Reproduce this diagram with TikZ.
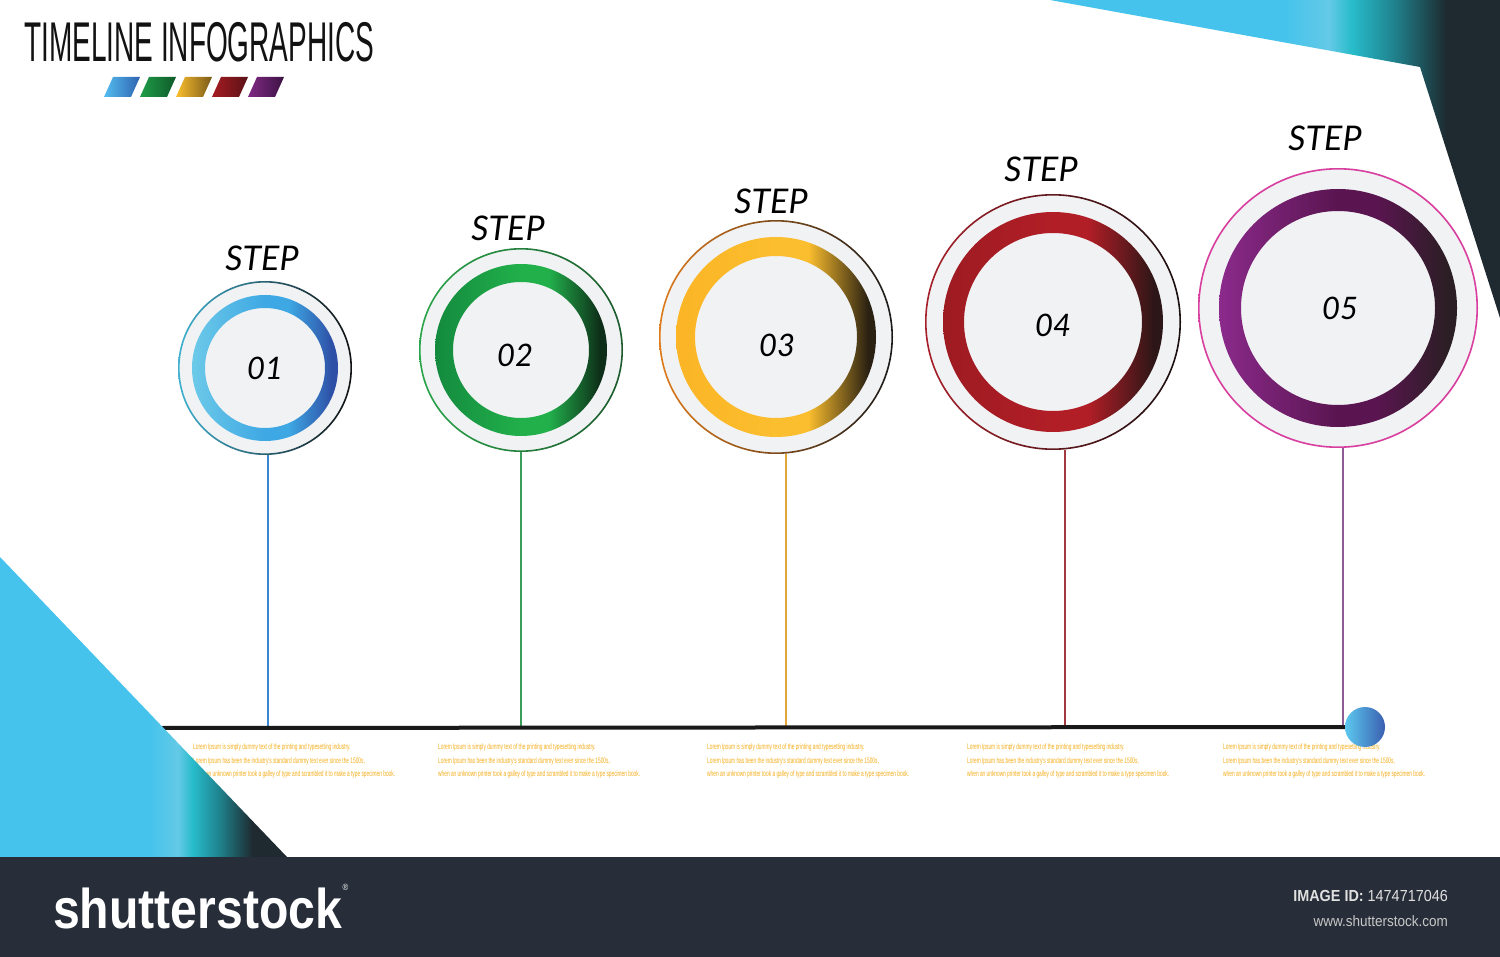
\documentclass[tikz,border=0pt]{standalone}
\usepackage{fontspec}
\setmainfont{Liberation Sans}
\newfontfamily\titlefont[FakeStretch=0.5]{Liberation Sans}
\newfontfamily\loremfont[FakeStretch=0.6]{Liberation Sans}
\newfontfamily\handfont{Lato}
\newfontfamily\logofont[FakeStretch=0.86]{Liberation Sans}
\newfontfamily\idfont[FakeStretch=0.9]{Liberation Sans}

% palette
\definecolor{discgray}{HTML}{F1F2F4}
\definecolor{skyA}{HTML}{45C3EC}
\definecolor{skyB}{HTML}{64C9E6}
\definecolor{tealA}{HTML}{28BCCB}
\definecolor{tealB}{HTML}{1F8590}
\definecolor{darkA}{HTML}{1E2A30}
\definecolor{footbar}{HTML}{282E39}
\definecolor{loremcol}{HTML}{F5AE1A}
\definecolor{ballA}{HTML}{5CC8EF}
\definecolor{ballB}{HTML}{3A5FB0}
% rings: left / middle / right
\definecolor{rA1}{HTML}{6CC9E8}\definecolor{rB1}{HTML}{3EA8E4}\definecolor{rC1}{HTML}{2E4FA6}
\definecolor{rA2}{HTML}{138A3E}\definecolor{rB2}{HTML}{22B04B}\definecolor{rC2}{HTML}{0D2E18}
\definecolor{rA3}{HTML}{FBB526}\definecolor{rB3}{HTML}{FBBE2E}\definecolor{rC3}{HTML}{2A2112}
\definecolor{rA4}{HTML}{9E1B22}\definecolor{rB4}{HTML}{B11E26}\definecolor{rC4}{HTML}{2C1617}
\definecolor{rA5}{HTML}{8B2A8B}\definecolor{rB5}{HTML}{5A1550}\definecolor{rC5}{HTML}{2B1E24}
% outlines: left / right
\definecolor{eA1}{HTML}{3FB0D0}\definecolor{eB1}{HTML}{111111}
\definecolor{eA2}{HTML}{2AA64A}\definecolor{eB2}{HTML}{1C5A2C}
\definecolor{eA3}{HTML}{E07B1A}\definecolor{eB3}{HTML}{1A1A1A}
\definecolor{eA4}{HTML}{A8202A}\definecolor{eB4}{HTML}{1A1010}
\definecolor{eA5}{HTML}{D93F9F}\definecolor{eB5}{HTML}{D93F9F}
% stems
\definecolor{st1}{HTML}{3A86D0}\definecolor{st2}{HTML}{3A9D5A}
\definecolor{st3}{HTML}{E3A73C}\definecolor{st4}{HTML}{A33A40}
\definecolor{st5}{HTML}{8D5B98}
% title bars
\definecolor{bA1}{HTML}{54BDF0}\definecolor{bB1}{HTML}{2F63B0}
\definecolor{bA2}{HTML}{1F9D48}\definecolor{bB2}{HTML}{0F5A2A}
\definecolor{bA3}{HTML}{FBBE2E}\definecolor{bB3}{HTML}{7A5A18}
\definecolor{bA4}{HTML}{A51C22}\definecolor{bB4}{HTML}{5A1217}
\definecolor{bA5}{HTML}{7F2A84}\definecolor{bB5}{HTML}{3D1244}

\pgfdeclarehorizontalshading{cornerfade}{100bp}{color(0bp)=(skyA); color(25bp)=(skyA);
  color(51bp)=(skyA); color(56bp)=(skyB); color(58.5bp)=(tealA); color(63bp)=(tealB);
  color(69bp)=(darkA); color(100bp)=(darkA)}
\colorlet{ringL}{rA1}\colorlet{ringM}{rB1}\colorlet{ringR}{rC1}
\pgfdeclarehorizontalshading[ringL,ringM,ringR]{ringfade}{100bp}{color(0bp)=(ringL);
  color(25bp)=(ringL); color(50bp)=(ringM); color(58bp)=(ringM); color(73bp)=(ringR);
  color(100bp)=(ringR)}

\begin{document}
\begin{tikzpicture}[x=1pt,y=-1pt]
    \tikzstyle{disc} = [circle, fill=discgray, inner sep=0pt]
    \tikzstyle{steplabel} = [inner sep=0pt, font=\handfont\itshape\fontsize{34}{36}\selectfont]
    \tikzstyle{numlabel} = [inner sep=0pt, font=\handfont\itshape\fontsize{31}{34}\selectfont]
    \tikzstyle{lorem} = [inner sep=0pt, anchor=north west, align=left, text=loremcol,
                         font=\loremfont\fontsize{8}{14}\selectfont]
    \tikzstyle{axisline} = [line width=4pt, draw=black!90]
    \useasboundingbox (0,0) rectangle (1500,957);
    \fill[white] (0,0) rectangle (1500,957);

    % corner band, top right
    \shade[shading=cornerfade] (1050,0) -- (1500,0) -- (1500,318) -- (1420,67) -- cycle;

    % title
    \node[anchor=base west, inner sep=0pt, text=black!93,
          font=\titlefont\fontsize{56}{60}\selectfont] (title) at (24,62) {TIMELINE INFOGRAPHICS};
    \foreach \k/\bx in {1/104,2/140,3/176,4/212,5/248}
        \shade[left color=bA\k, right color=bB\k] (\bx,97) -- ++(27,0) -- ++(9,-20) -- ++(-27,0) -- cycle;

    % steps
    \foreach \i/\cx/\cy/\R/\Ro/\Ri/\lx/\nx/\ny/\sx/\sy/\tx in {
        1/265/368/87/73/60/268/265/368/262/258/193,
        2/521/350/102/86/68/521/515/355/508/228/438,
        3/776/337/117/100/81/786/777/345/771/201/707,
        4/1053/322/128/110/89/1065/1053/325/1041/169/967,
        5/1338/308/140/119/97/1343/1340/308/1325/138/1223} {
        \node[disc, minimum size=2*\R pt] (c\i) at (\cx,\cy) {};
        \shade[left color=eA\i, right color=eB\i, even odd rule]
            (c\i.center) circle[radius=\R pt] circle[radius=\R pt-1.6pt];
        \colorlet{ringL}{rA\i}\colorlet{ringM}{rB\i}\colorlet{ringR}{rC\i}
        \shade[shading=ringfade, even odd rule]
            (c\i.center) circle[radius=\Ro pt] circle[radius=\Ri pt];
        \node[numlabel] (n\i) at (\nx,\ny) {0\i};
        \node[steplabel] (s\i) at (\sx,\sy) {STEP};
        \coordinate (foot\i) at (\lx,728);
        \draw[line width=2.2pt, draw=st\i] (c\i.south -| foot\i) -- (foot\i);
        \node[lorem] (t\i) at (\tx,743) {Lorem Ipsum is simply dummy text of the printing and typesetting industry.\\
            Lorem Ipsum has been the industry's standard dummy text ever since the 1500s,\\
            when an unknown printer took a galley of type and scrambled it to make a type specimen book.};
    }

    % time axis
    \coordinate (axisL) at (160,728);
    \node[circle, minimum size=40pt, inner sep=0pt, left color=ballA, right color=ballB] (ball) at (1365,727) {};
    \draw[axisline] (axisL) -- (ball.west);

    % corner, bottom left
    \shade[shading=cornerfade] (0,557) -- (287,857) -- (0,857) -- cycle;

    % footer
    \fill[footbar] (0,857) rectangle (1500,957);
    \node[anchor=base west, inner sep=0pt, text=white,
          font=\logofont\bfseries\fontsize{56}{60}\selectfont] (logo) at (53,928) {shutterstock};
    \node[anchor=west, inner sep=0pt, text=white, font=\logofont\fontsize{9}{10}\selectfont]
        (reg) at (logo.north east) {®};
    \node[anchor=base east, inner sep=0pt, text=white!88!black,
          font=\idfont\fontsize{16}{18}\selectfont] (imgid) at (1448,901) {\textbf{IMAGE ID:} 1474717046};
    \node[anchor=base east, inner sep=0pt, text=white!78!black,
          font=\idfont\fontsize{15}{18}\selectfont] (site) at (1448,926) {www.shutterstock.com};
\end{tikzpicture}
\end{document}
